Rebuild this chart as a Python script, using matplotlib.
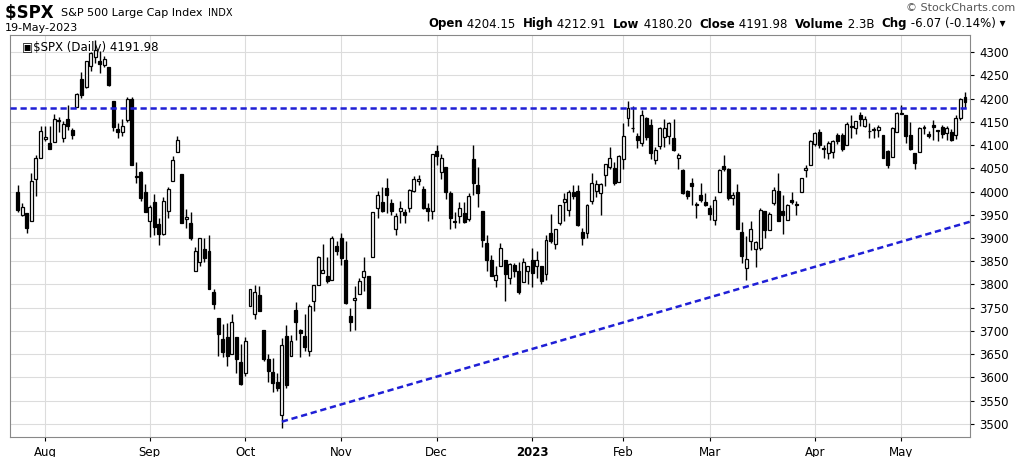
import matplotlib
matplotlib.use("Agg")
import matplotlib.pyplot as plt
import pandas as pd
import numpy as np

holidays = ["2022-09-05","2022-11-24","2022-12-26","2023-01-02","2023-01-16","2023-02-20","2023-04-07"]
dates = [d for d in pd.bdate_range("2022-07-22","2023-05-19") if d.strftime("%Y-%m-%d") not in holidays]

close = [3961,3966,3921,4023,4072,4130,
4118,4091,4155,4152,4145,4140,4122,4210,4207,4280,4297,4305,4275,4284,4228,4138,4128,4141,4199,4058,4031,3986,3955,
3967,3924,3908,3980,4006,4067,4110,3932,3946,3901,3873,3900,3856,3790,3758,3693,3655,3647,3719,3640,3586,
3678,3791,3783,3744,3640,3613,3589,3577,3669,3583,3678,3720,3695,3666,3753,3798,3859,3831,3807,3901,3872,
3856,3760,3719,3771,3807,3828,3749,3956,3993,3957,3992,3959,3947,3965,3950,4004,4027,4026,3964,3958,4080,
4077,4072,3999,3942,3934,3964,3934,3991,4019,3996,3896,3852,3818,3821,3879,3822,3845,3829,3783,3849,3840,
3825,3853,3808,3895,3893,3919,3970,3983,3999,3991,3929,3899,3972,4019,4017,4016,4060,4071,4018,4077,
4119,4180,4136,4111,4164,4118,4082,4090,4137,4136,4148,4090,4079,3997,3991,4012,3970,3982,3970,
3951,3981,4046,4048,3986,3992,3919,3862,3855,3920,3892,3960,3917,3951,4003,3937,3949,3971,3977,3971,4028,4051,4109,
4125,4101,4091,4105,4109,4108,4092,4146,4138,4152,4155,4155,4130,4134,4138,4072,4056,4136,4169,
4168,4120,4091,4061,4136,4138,4120,4138,4131,4124,4136,4110,4159,4198,4192]
opn = [3999,3950,3954,3936,4026,4071,
4112,4104,4107,4154,4116,4155,4133,4182,4241,4225,4270,4290,4281,4273,4267,4195,4134,4127,4153,4199,4034,4042,4000,
3936,3978,3930,3909,3959,4022,4084,4038,3940,3932,3830,3849,3876,3871,3783,3727,3682,3686,3651,3688,3633,
3609,3753,3737,3778,3703,3640,3612,3590,3520,3690,3646,3746,3703,3689,3657,3765,3799,3825,3819,3809,3882,
3901,3853,3733,3767,3780,3817,3818,3859,3964,3978,4007,3976,3919,3957,3956,3965,4001,4023,4006,3965,3958,
4087,4041,4053,3996,3937,3948,3954,3940,4069,4015,3959,3890,3853,3810,3839,3853,3815,3843,3829,3805,3830,
3853,3840,3840,3823,3910,3888,3932,3977,3960,3999,4002,3912,3910,3979,4001,3997,4036,4053,4050,4020,
4070,4159,4137,4119,4105,4158,4144,4068,4097,4117,4119,4114,4073,4047,4001,4018,3973,3993,3977,
3964,3939,3998,4055,4048,3987,3998,3912,3835,3894,3876,3879,3959,3917,3975,4002,3959,3939,3982,3974,3999,4046,4057,
4102,4128,4094,4082,4086,4121,4122,4100,4140,4137,4164,4140,4131,4133,4133,4121,4088,4075,4129,
4166,4165,4122,4082,4085,4136,4124,4144,4132,4138,4126,4127,4122,4158,4204]
high = [4013,3975,3954,4039,4079,4140,
4141,4141,4167,4161,4151,4187,4137,4211,4257,4280,4301,4325,4302,4292,4267,4195,4148,4156,4204,4204,4063,4044,4016,
3970,3994,3943,3988,4010,4077,4119,4038,3962,3955,3880,3900,3900,3907,3790,3727,3716,3717,3737,3688,3672,
3686,3791,3799,3796,3703,3650,3641,3609,3685,3712,3691,3762,3704,3737,3758,3799,3862,3887,3859,3905,3893,
3911,3894,3750,3796,3814,3859,3818,3956,4002,4009,4029,3984,3954,3979,3962,4005,4034,4035,4012,3976,4080,
4101,4080,4053,4001,3956,3977,3977,3996,4100,4053,3959,3907,3864,3839,3889,3853,3846,3847,3848,3858,3840,
3878,3873,3840,3906,3951,3920,3970,3997,4003,4015,4015,3922,3973,4039,4024,4019,4060,4095,4063,4078,
4148,4195,4183,4125,4176,4160,4157,4095,4138,4156,4149,4157,4082,4048,4004,4029,3978,4019,3997,
3971,3990,4048,4079,4050,4000,4017,3934,3905,3937,3894,3965,3959,3956,4010,4039,3992,3973,3999,3980,4030,4058,4110,
4128,4134,4100,4108,4110,4125,4125,4150,4164,4152,4170,4163,4148,4139,4142,4121,4089,4139,4170,
4186,4165,4149,4082,4139,4143,4131,4154,4133,4143,4141,4135,4164,4202,4213]
low = [3955,3947,3911,3936,3990,4079,
4108,4091,4106,4127,4107,4133,4112,4182,4201,4222,4260,4277,4254,4268,4227,4130,4114,4120,4149,4057,4018,3980,3955,
3903,3907,3886,3907,3944,4022,4084,3932,3922,3896,3838,3839,3848,3790,3747,3647,3644,3624,3650,3610,3584,
3604,3753,3726,3742,3636,3591,3568,3571,3492,3578,3646,3680,3645,3657,3647,3744,3799,3825,3804,3809,3863,
3843,3759,3699,3702,3780,3786,3749,3859,3944,3956,3954,3949,3906,3933,3933,3956,3998,4013,3962,3937,3940,
4057,4026,3984,3919,3922,3933,3933,3937,3993,3966,3880,3828,3818,3795,3839,3765,3800,3817,3780,3805,3801,
3794,3815,3802,3809,3890,3877,3928,3937,3947,3984,3926,3886,3900,3973,3989,3949,4012,4048,4015,4020,
4049,4141,4127,4093,4097,4111,4069,4060,4092,4095,4103,4087,4048,3995,3983,3971,3943,3977,3968,
3939,3929,3998,4044,3981,3971,3919,3846,3809,3874,3838,3875,3901,3917,3971,3936,3909,3938,3973,3950,3999,4032,4056,
4098,4093,4073,4069,4073,4102,4087,4100,4114,4123,4140,4139,4114,4114,4117,4071,4050,4075,4128,
4166,4105,4089,4048,4084,4124,4116,4110,4109,4114,4110,4109,4113,4153,4180]

resistance = 4180
trend_start = ("2022-10-13", 3505)
trend_end_value = 3935
yticks = list(range(3500, 4301, 50))

fig = plt.figure(figsize=(10.24, 4.57), dpi=100)
ax = fig.add_axes([10/1024, 1-437/457, 960/1024, 402/457])
n = len(dates)
for i in range(n):
    o, h, l, c = opn[i], high[i], low[i], close[i]
    ax.vlines(i, l, h, color="black", lw=1, zorder=3)
    bot, top = min(o, c), max(o, c)
    fc = "white" if c >= o else "black"
    ax.bar(i, max(top-bot, 0.8), bottom=bot, width=0.65, facecolor=fc, edgecolor="black", lw=0.9, zorder=4)

xmin, xmax = -1.7, n - 1 + 1.1
ax.set_xlim(xmin, xmax)
ax.set_ylim(3472, 4336.6)
ax.axhline(resistance, color="#1f1fd6", ls=(0, (2.5, 1.5)), lw=1.8, zorder=5)
si = [d.strftime("%Y-%m-%d") for d in dates].index(trend_start[0])
ax.plot([si, xmax], [trend_start[1], trend_end_value], color="#1f1fd6", ls=(0, (2.5, 1.5)), lw=1.8, zorder=5)

mt, ml = [], []
prev = None
for i, d in enumerate(dates):
    if prev is not None and d.month != prev:
        mt.append(i); ml.append("2023" if d.month == 1 else d.strftime("%b"))
    prev = d.month
ax.set_xticks(mt)
ax.set_xticklabels(ml, fontsize=8.5)
for t in ax.get_xticklabels():
    if t.get_text() == "2023":
        t.set_fontweight("bold")
ax.yaxis.tick_right()
ax.set_yticks(yticks)
ax.tick_params(axis="y", labelsize=8.5, length=3)
ax.tick_params(axis="x", length=3)
ax.grid(True, color="#dcdcdc", lw=0.8, zorder=0)
ax.set_axisbelow(True)
for s in ax.spines.values():
    s.set_color("#888888"); s.set_linewidth(0.8)

renderer = fig.canvas.get_renderer()
xs = 5
for txt, fs, w in [("$SPX ", 12, "bold"), ("S&P 500 Large Cap Index ", 8, "normal"), ("INDX", 7, "normal")]:
    t = fig.text(xs/1024, 1-13/457, txt, fontsize=fs, fontweight=w, va="center")
    xs += t.get_window_extent(renderer).width + 2
fig.text(5/1024, 1-28/457, "19-May-2023", fontsize=8, va="center")
fig.text(1015/1024, 1-8/457, "© StockCharts.com", fontsize=8, ha="right", va="center", color="#555555")
parts = [("Open", True), (" 4204.15  ", False), ("High", True), (" 4212.91  ", False), ("Low", True),
         (" 4180.20  ", False), ("Close", True), (" 4191.98  ", False), ("Volume", True), (" 2.3B  ", False),
         ("Chg", True), (" -6.07 (-0.14%) ▾", False)]
xs = 428
for txt, b in parts:
    t = fig.text(xs/1024, 1-24/457, txt, fontsize=8.5, fontweight="bold" if b else "normal", va="center")
    xs += t.get_window_extent(renderer).width
ax.text(0.012, 0.985, "▣$SPX (Daily) 4191.98", transform=ax.transAxes, fontsize=8.5, va="top")
fig.savefig("out.png", dpi=100)
